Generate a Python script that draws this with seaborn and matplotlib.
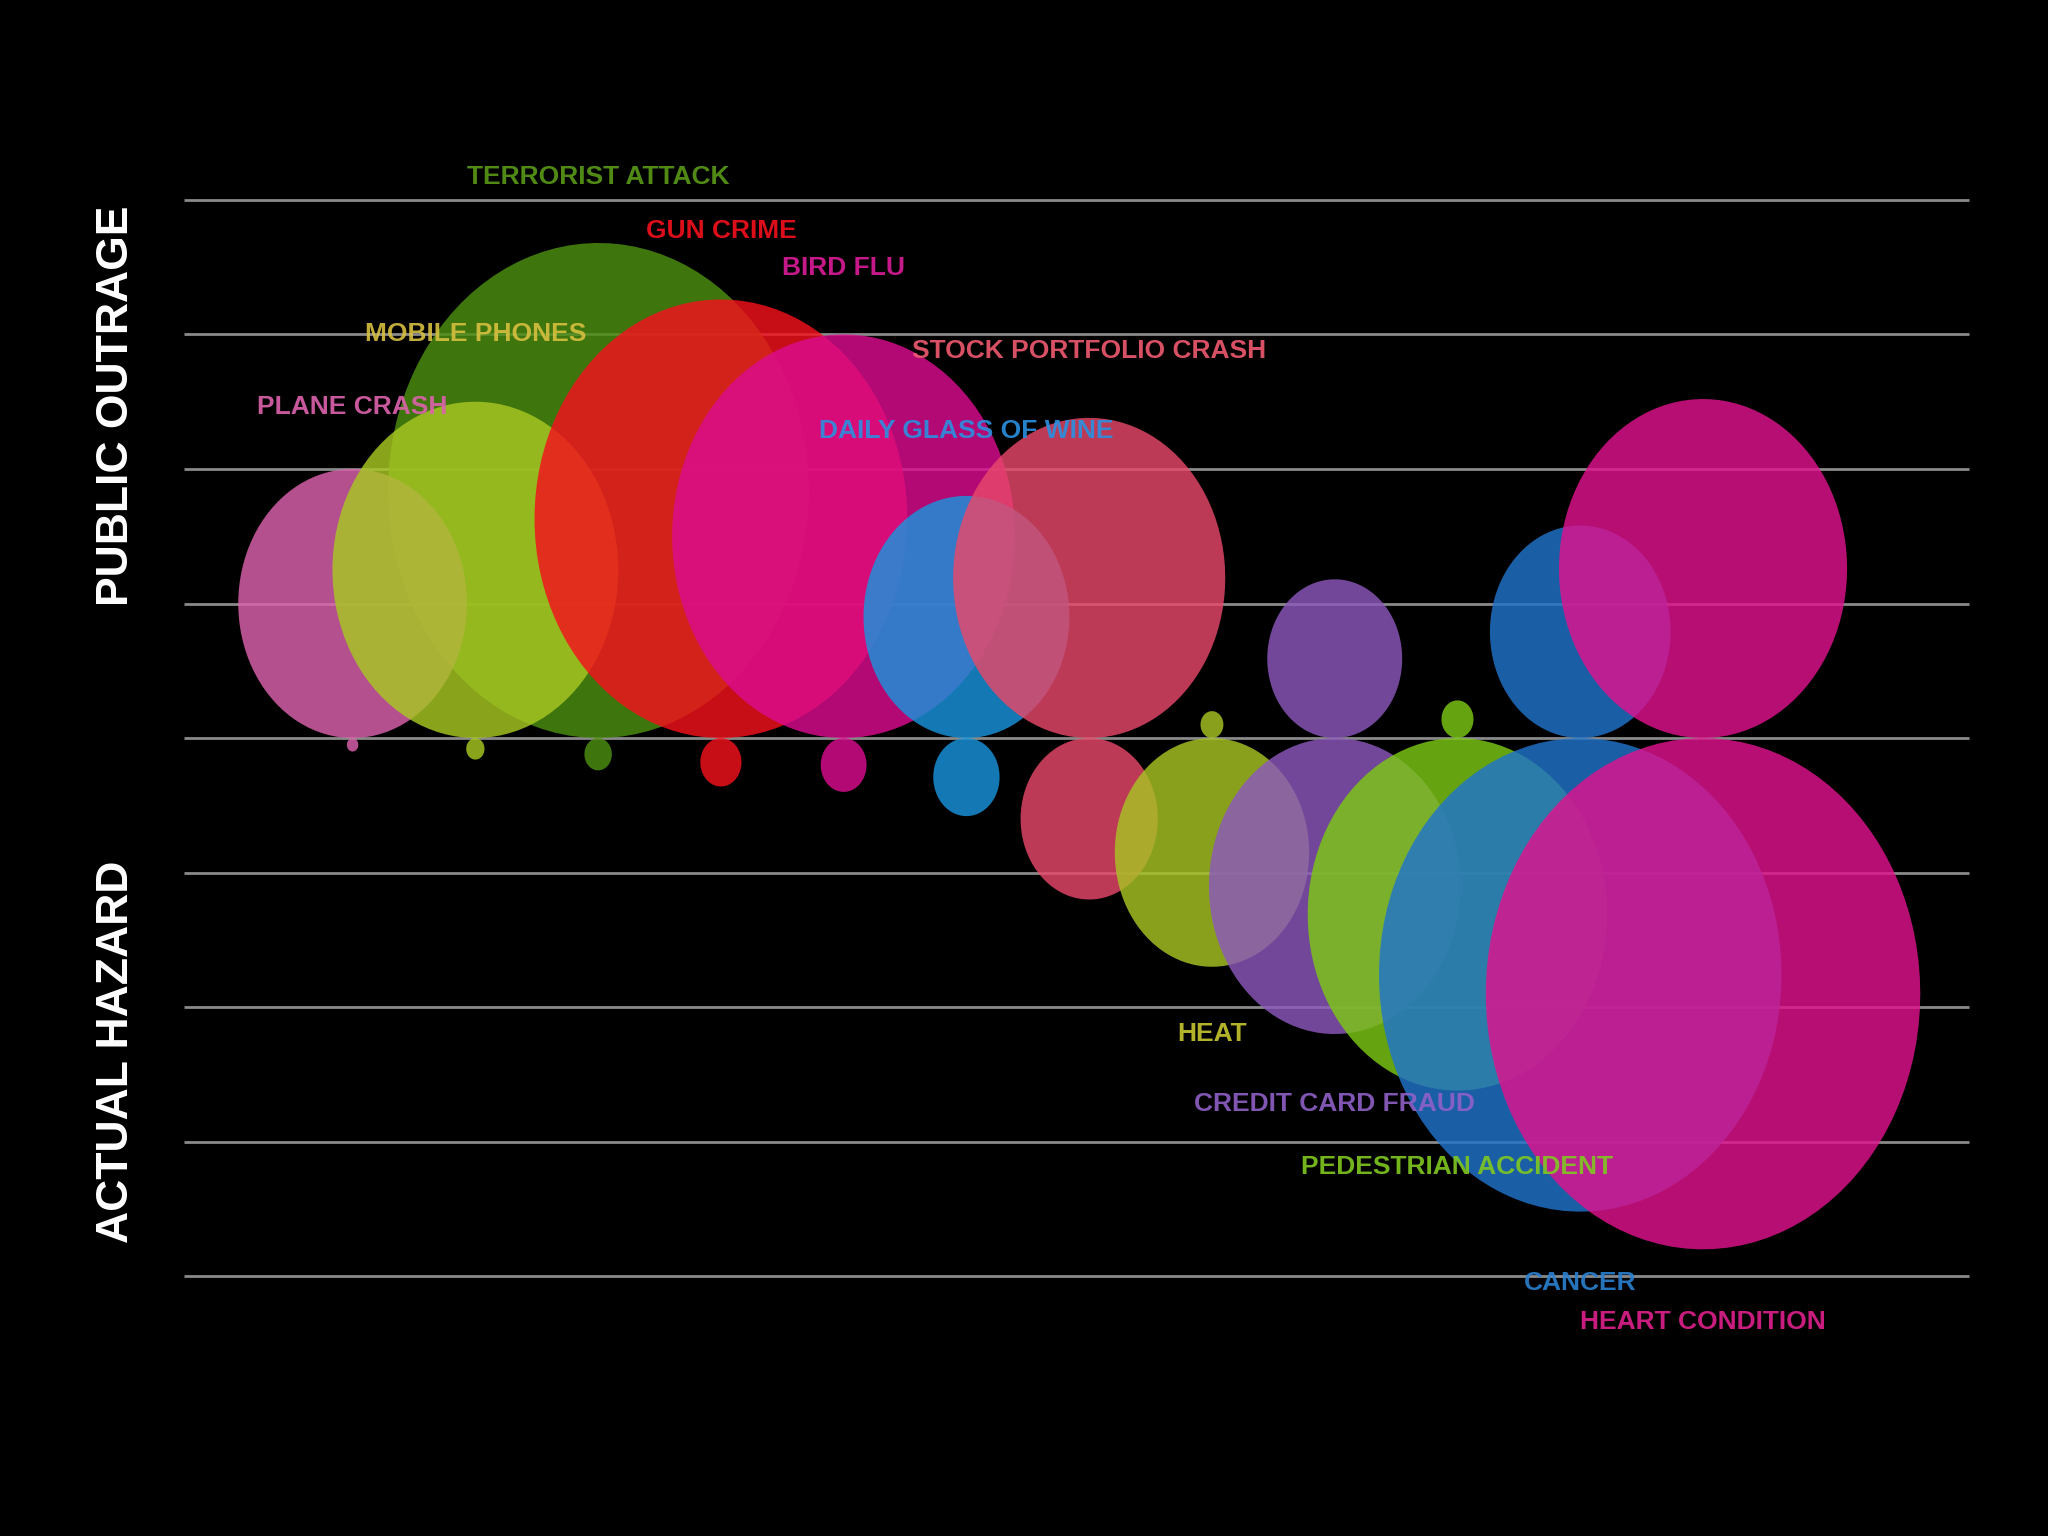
import numpy as np
import pandas as pd
import matplotlib
matplotlib.use("Agg")
import matplotlib.pyplot as plt
from matplotlib.path import Path
import seaborn as sns

categories = ["PLANE CRASH", "MOBILE PHONES", "TERRORIST ATTACK", "GUN CRIME", "BIRD FLU",
              "DAILY GLASS OF WINE", "STOCK PORTFOLIO CRASH", "HEAT", "CREDIT CARD FRAUD",
              "PEDESTRIAN ACCIDENT", "CANCER", "HEART CONDITION"]
outrage = [1.0, 1.25, 1.84, 1.63, 1.5, 0.9, 1.19, 0.1, 0.59, 0.14, 0.79, 1.26]
hazard = [0.05, 0.08, 0.12, 0.18, 0.2, 0.29, 0.6, 0.85, 1.1, 1.31, 1.76, 1.9]
colors = ["#de62ae", "#a8c822", "#4e9010", "#f4101c", "#dc0c90", "#1894dc",
          "#e8486a", "#a8c424", "#8c58bc", "#7cc814", "#2074cc", "#e0128e"]
label_colors = ["#de62ae", "#d8c040", "#5a9a18", "#f4101c", "#dc1c9a", "#2a90e0",
                "#f05a70", "#c8c830", "#9060c8", "#80c820", "#2a80d0", "#e0208e"]
label_y = [2.46, 3.00, 4.17, 3.77, 3.49, 2.28, 2.88, -2.20, -2.72, -3.19, -4.05, -4.34]

sns.set_theme(style="dark")
plt.rcParams['font.family'] = ['Liberation Sans Narrow', 'Liberation Sans', 'DejaVu Sans']

fig = plt.figure(figsize=(20.48, 15.36), dpi=100, facecolor="black")
ax = fig.add_axes([0, 0, 1, 1])
ax.set_facecolor("black")
ax.set_xlim(-2.872, 13.81)
ax.set_ylim(-5.93, 5.485)
ax.axis("off")

ax.hlines(np.arange(-4, 5), -1.37, 13.17, color="#8a8a8a", lw=2, zorder=0)

t = np.linspace(0, 2 * np.pi, 100)
ell = Path(np.column_stack([0.85 * np.cos(t), np.sin(t)]))

pt_per_unit = 103 * 1.306 * 0.72
rows = []
for i, c in enumerate(categories):
    rows.append(dict(cat=c, x=i, y=outrage[i], d2=(2 * outrage[i] * pt_per_unit) ** 2, order=(0 if i == 2 else 1)))
    rows.append(dict(cat=c, x=i, y=-hazard[i], d2=(2 * hazard[i] * pt_per_unit) ** 2, order=2))
df = pd.DataFrame(rows).sort_values("order", kind="stable")
lo, hi = df.d2.min(), df.d2.max()
pal = dict(zip(categories, colors))
for _, sub in df.groupby("order"):
    sns.scatterplot(data=sub, x="x", y="y", hue="cat", palette=pal, size="d2",
                    sizes=(lo, hi), size_norm=(lo, hi), marker=ell, alpha=0.82,
                    linewidth=0, legend=False, ax=ax, zorder=2)

for i, c in enumerate(categories):
    ax.text(i, label_y[i], c, color=label_colors[i], fontsize=19, fontweight="bold",
            ha="center", va="center", zorder=3, alpha=0.9)

ax.text(-1.92, 2.47, "PUBLIC OUTRAGE", color="white", rotation=90, fontsize=32,
        fontweight="bold", ha="center", va="center", family=['Liberation Sans', 'DejaVu Sans'])
ax.text(-1.92, -2.33, "ACTUAL HAZARD", color="white", rotation=90, fontsize=32,
        fontweight="bold", ha="center", va="center", family=['Liberation Sans', 'DejaVu Sans'])

fig.savefig("out.png", dpi=100, facecolor="black")
